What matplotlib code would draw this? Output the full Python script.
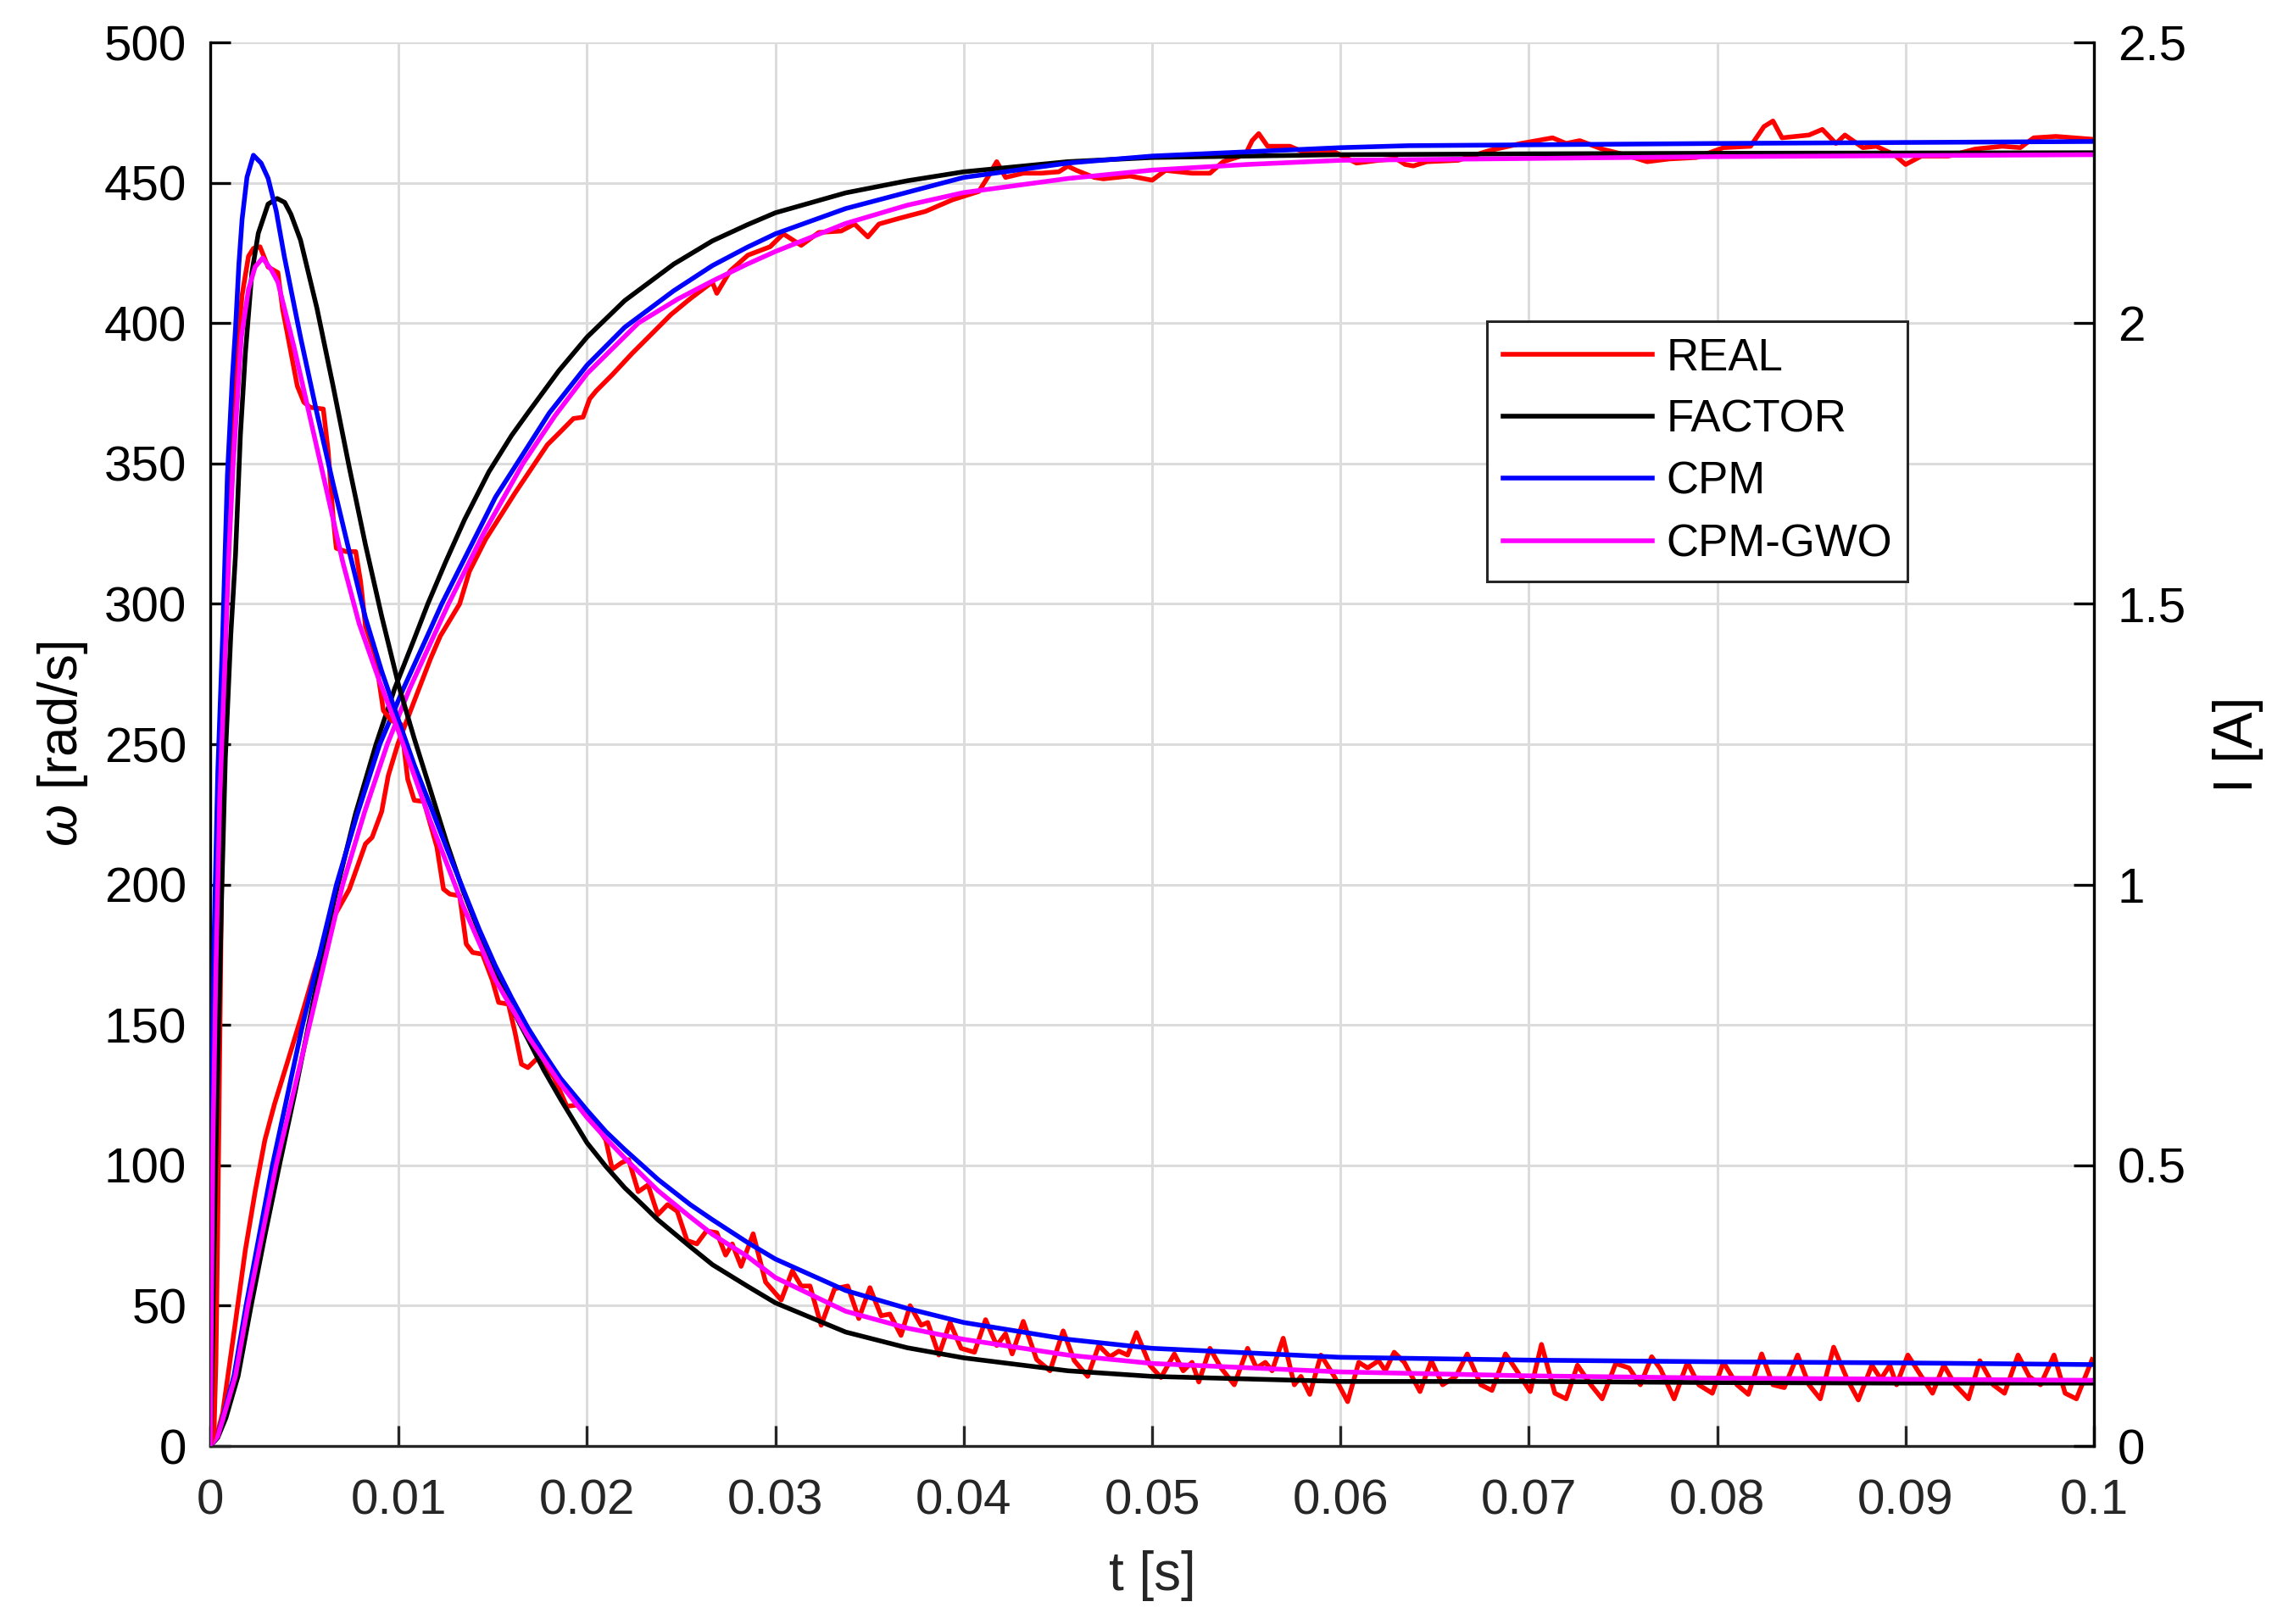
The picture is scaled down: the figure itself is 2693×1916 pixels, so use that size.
import matplotlib
matplotlib.use("Agg")
import matplotlib.pyplot as plt

plt.rcParams['font.family'] = ['Liberation Sans', 'DejaVu Sans']
plt.rcParams['mathtext.fontset'] = 'custom'
plt.rcParams['mathtext.rm'] = 'Liberation Sans'
plt.rcParams['mathtext.it'] = 'Liberation Sans:italic'

# ---------------- data ----------------
series_names = ["REAL", "FACTOR", "CPM", "CPM-GWO"]
series_colors = ["#ff0000", "#000000", "#0000ff", "#ff00ff"]

# ---- speed omega [rad/s] ----
t_w_real = [0, 0.0003, 0.00066, 0.001, 0.00134, 0.00186, 0.00238, 0.0029, 0.00341, 0.0041,
            0.00479, 0.00566, 0.00652, 0.00738, 0.00824, 0.00859, 0.0091, 0.00945, 0.00997,
            0.01083, 0.01169, 0.01221, 0.01324, 0.01376, 0.01462, 0.01617, 0.0179, 0.01859,
            0.01928, 0.01979, 0.02014, 0.02048, 0.02134, 0.02238, 0.02341, 0.02445, 0.02548,
            0.02665, 0.02689, 0.0276, 0.02854, 0.02972, 0.03042, 0.03137, 0.03231, 0.03349,
            0.0342, 0.03491, 0.0355, 0.03656, 0.03797, 0.03939, 0.0408, 0.04127, 0.04175,
            0.04222, 0.04316, 0.0441, 0.04505, 0.04552, 0.04599, 0.04693, 0.04741, 0.04882,
            0.05, 0.05071, 0.05212, 0.05307, 0.05377, 0.05495, 0.05531, 0.05566, 0.05613,
            0.05731, 0.05802, 0.05967, 0.06085, 0.06203, 0.06297, 0.06344, 0.06387, 0.06458,
            0.06625, 0.06792, 0.06959, 0.07126, 0.07198, 0.0727, 0.07389, 0.07508, 0.07628,
            0.07747, 0.0789, 0.08033, 0.08177, 0.08248, 0.08296, 0.08344, 0.08415, 0.08487,
            0.08558, 0.0863, 0.08678, 0.08773, 0.08845, 0.0894, 0.09, 0.09084, 0.09227,
            0.0937, 0.09513, 0.09609, 0.0968, 0.09799, 0.09895, 0.0999]
w_real = [0, 2.5, 11.8, 28, 44.3, 69.7, 90.5, 109, 121.8, 136.8,
          152, 172, 188, 198.3, 214.5, 216.8, 226, 238.8, 250.3,
          265.4, 280.4, 288.5, 300, 311.6, 323, 339.4, 356.7, 361.3,
          366, 366.5, 373, 375.8, 381.6, 389.1, 396, 403, 408.7,
          414.6, 410.6, 418.6, 424.2, 427.2, 431.8, 427.7, 432.3, 432.8,
          435.3, 430.7, 435.3, 437.3, 439.8, 443.9, 446.9, 451.9, 457.5,
          451.9, 453.4, 453.4, 453.9, 455.9, 454.4, 451.9, 451.4, 452.4,
          450.9, 454.4, 453.4, 453.4, 457.5, 460, 465, 467.5, 463,
          463, 461, 461, 457, 458, 458.5, 456.5, 456, 457.5,
          458, 461.5, 464, 466, 464, 465, 462, 460, 457.5,
          458.5, 459, 462.5, 463, 470, 472, 466, 466.5, 467,
          469, 464, 467, 462.5, 463, 460, 456.5, 459.5, 459.5,
          462, 463, 462.5, 466, 466.5, 466, 465.5]

t_w_factor = [0, 0.0004, 0.00083, 0.00148, 0.00217, 0.0029, 0.00367, 0.0045, 0.00522, 0.0059,
              0.0066, 0.0077, 0.0088, 0.0098, 0.0108, 0.01155, 0.0125, 0.0135, 0.01479, 0.016,
              0.01686, 0.0185, 0.02, 0.022, 0.0246, 0.02666, 0.0285, 0.03, 0.03373, 0.037,
              0.04, 0.04552, 0.05, 0.06, 0.07, 0.08, 0.1]
w_factor = [0, 3, 10, 25, 50, 75, 100, 126, 150, 173,
            195, 225, 250, 270, 287, 300, 315, 330, 347, 360,
            368, 383, 395, 408, 421, 429.3, 435, 439.3, 446.4, 450.7,
            453.9, 457.5, 459, 460, 460.3, 460.5, 460.7]

t_w_cpm = [0, 0.0004, 0.00066, 0.00126, 0.0019, 0.0033, 0.0049, 0.0067, 0.0078, 0.009,
           0.0102, 0.01152, 0.01229, 0.01514, 0.016, 0.018, 0.02, 0.022, 0.0246, 0.02666,
           0.0285, 0.03, 0.03373, 0.04, 0.04552, 0.05, 0.06, 0.0636, 0.08, 0.1]
w_cpm = [0, 4, 10, 25, 50, 100, 150, 200, 225, 250,
         269, 288.5, 300, 338, 347, 368, 385, 398.5, 411.5, 420.5,
         427, 431.8, 440.8, 451.9, 457, 459.5, 462.5, 463.2, 464, 464.7]

t_w_gwo = [0, 0.0004, 0.00069, 0.00134, 0.002, 0.0035, 0.00534, 0.00703, 0.0082, 0.0094,
           0.0106, 0.01186, 0.01265, 0.0145, 0.0166, 0.0183, 0.02, 0.02272, 0.0248, 0.02666,
           0.0285, 0.03, 0.03373, 0.037, 0.04, 0.04552, 0.05, 0.055, 0.06, 0.08, 0.1]
w_gwo = [0, 3.5, 10, 25, 50, 100, 152, 200, 226, 250,
         270, 288.5, 300, 325, 350, 367, 382, 400, 408.5, 415,
         421, 425.5, 435.5, 442, 446.5, 451.5, 454.5, 456.5, 458, 459.3, 460]

# ---- current I [A] ----
t_i_real = [0, 0.0002, 0.0003, 0.0004, 0.0005, 0.0006, 0.0008, 0.00109, 0.00134, 0.00169,
            0.00203, 0.00229, 0.00264, 0.00307, 0.00359, 0.00384, 0.0041, 0.00462, 0.00497,
            0.00531, 0.006, 0.00626, 0.00652, 0.00669, 0.00721, 0.00772, 0.00798, 0.00824,
            0.00876, 0.00919, 0.00962, 0.01014, 0.01048, 0.01083, 0.01134, 0.01203, 0.01238,
            0.01272, 0.01324, 0.01359, 0.01393, 0.01445, 0.01497, 0.01531, 0.01583, 0.01617,
            0.01652, 0.01686, 0.01738, 0.01824, 0.01893, 0.01962, 0.02031, 0.021, 0.02134,
            0.02186, 0.02221, 0.02272, 0.02324, 0.02376, 0.02428, 0.02479, 0.02531, 0.02583,
            0.02634, 0.02689, 0.02736, 0.02771, 0.02818, 0.02882, 0.02948, 0.03031, 0.0309,
            0.03137, 0.03184, 0.03243, 0.03314, 0.03384, 0.03443, 0.03502, 0.03561, 0.03608,
            0.03667, 0.03715, 0.03774, 0.03809, 0.03868, 0.03927, 0.03986, 0.04057, 0.04116,
            0.04175, 0.04222, 0.04257, 0.04316, 0.04387, 0.04458, 0.04528, 0.04587, 0.04658,
            0.04717, 0.04776, 0.04823, 0.0487, 0.04917, 0.04988, 0.05047, 0.05118, 0.05165,
            0.05212, 0.05248, 0.05307, 0.05366, 0.05436, 0.05507, 0.05554, 0.05601, 0.05637,
            0.05696, 0.05755, 0.0579, 0.05837, 0.05896, 0.05967, 0.06038, 0.06097, 0.06144,
            0.06203, 0.06238, 0.06285, 0.06339, 0.06422, 0.06482, 0.06542, 0.06613, 0.06673,
            0.06745, 0.06804, 0.06876, 0.06936, 0.07007, 0.07067, 0.07138, 0.07198, 0.07258,
            0.07329, 0.07389, 0.07461, 0.07532, 0.07592, 0.07652, 0.07699, 0.07771, 0.07842,
            0.07902, 0.07974, 0.08033, 0.08105, 0.08165, 0.08236, 0.08296, 0.08356, 0.08427,
            0.08487, 0.08547, 0.08618, 0.0869, 0.08749, 0.08821, 0.08869, 0.08916, 0.08952,
            0.09012, 0.09084, 0.09143, 0.09203, 0.09263, 0.09334, 0.09394, 0.09465, 0.09525,
            0.09597, 0.09656, 0.09716, 0.09788, 0.09847, 0.09907, 0.0999]
i_real = [0, 0.025, 0.15, 0.40, 0.70, 1.00, 1.45, 1.772, 1.917, 2.05,
          2.119, 2.133, 2.136, 2.10, 2.09, 2.025, 1.98, 1.888, 1.859,
          1.85, 1.847, 1.772, 1.655, 1.599, 1.593, 1.593, 1.54, 1.46,
          1.408, 1.31, 1.292, 1.285, 1.188, 1.15, 1.148, 1.067, 0.992,
          0.983, 0.98, 0.894, 0.879, 0.876, 0.83, 0.79, 0.787, 0.738,
          0.68, 0.674, 0.691, 0.657, 0.605, 0.608, 0.581, 0.545, 0.493,
          0.505, 0.51, 0.453, 0.465, 0.412, 0.43, 0.418, 0.366, 0.36,
          0.383, 0.38, 0.34, 0.36, 0.32, 0.378, 0.292, 0.26, 0.312,
          0.285, 0.285, 0.215, 0.28, 0.285, 0.227, 0.282, 0.232, 0.235,
          0.197, 0.25, 0.215, 0.22, 0.162, 0.22, 0.174, 0.167, 0.225,
          0.179, 0.20, 0.164, 0.222, 0.154, 0.134, 0.205, 0.152, 0.124,
          0.179, 0.159, 0.169, 0.162, 0.202, 0.144, 0.122, 0.164, 0.134,
          0.149, 0.114, 0.174, 0.139, 0.109, 0.174, 0.139, 0.149, 0.134,
          0.192, 0.109, 0.124, 0.092, 0.162, 0.124, 0.079, 0.149, 0.139,
          0.152, 0.134, 0.167, 0.149, 0.097, 0.152, 0.109, 0.124, 0.164,
          0.109, 0.099, 0.164, 0.134, 0.097, 0.181, 0.094, 0.084, 0.144,
          0.109, 0.084, 0.147, 0.139, 0.109, 0.159, 0.137, 0.084, 0.149,
          0.109, 0.094, 0.149, 0.109, 0.092, 0.164, 0.109, 0.104, 0.162,
          0.109, 0.084, 0.176, 0.119, 0.082, 0.144, 0.119, 0.144, 0.109,
          0.162, 0.124, 0.094, 0.144, 0.109, 0.084, 0.152, 0.109, 0.094,
          0.162, 0.124, 0.109, 0.162, 0.094, 0.084, 0.154]

t_i_factor = [0, 0.0001, 0.0002, 0.0003, 0.00045, 0.0006, 0.0008, 0.00109, 0.00134, 0.0016,
              0.00186, 0.00221, 0.00255, 0.00307, 0.00355, 0.00395, 0.00428, 0.00479, 0.00566,
              0.00652, 0.00738, 0.00824, 0.0091, 0.01, 0.01083, 0.01169, 0.01255, 0.01341,
              0.01428, 0.01514, 0.016, 0.01686, 0.0177, 0.01859, 0.02, 0.021, 0.022, 0.023,
              0.02376, 0.02548, 0.02666, 0.0285, 0.03, 0.03373, 0.037, 0.04, 0.04552, 0.05,
              0.06, 0.07, 0.08, 0.09, 0.1]
i_factor = [0, 0.15, 0.35, 0.525, 0.75, 0.975, 1.225, 1.445, 1.587, 1.801,
            1.945, 2.09, 2.16, 2.212, 2.222, 2.215, 2.194, 2.148, 2.027,
            1.888, 1.743, 1.605, 1.478, 1.355, 1.26, 1.168, 1.075, 0.99,
            0.915, 0.845, 0.78, 0.725, 0.67, 0.618, 0.54, 0.498, 0.46, 0.428,
            0.403, 0.355, 0.323, 0.285, 0.255, 0.203, 0.175, 0.157, 0.134, 0.124,
            0.115, 0.115, 0.113, 0.112, 0.112]

t_i_cpm = [0, 0.00003, 0.00008, 0.0002, 0.0004, 0.00066, 0.00091, 0.00117, 0.00134, 0.00152,
           0.00169, 0.00195, 0.00229, 0.0027, 0.00307, 0.0035, 0.00393, 0.00479, 0.00566,
           0.00652, 0.00738, 0.00824, 0.0091, 0.00997, 0.01083, 0.01169, 0.01255, 0.01341,
           0.01428, 0.01514, 0.016, 0.01686, 0.0177, 0.01859, 0.02, 0.021, 0.022, 0.023,
           0.02376, 0.02548, 0.02666, 0.0285, 0.03, 0.03373, 0.037, 0.04, 0.04552, 0.05,
           0.06, 0.07, 0.08, 0.09, 0.1]
i_cpm = [0, 0.30, 0.60, 0.90, 1.20, 1.445, 1.729, 1.902, 1.99, 2.105,
         2.185, 2.26, 2.299, 2.285, 2.258, 2.20, 2.119, 1.975, 1.84,
         1.714, 1.593, 1.475, 1.38, 1.295, 1.213, 1.14, 1.065, 0.993,
         0.92, 0.855, 0.798, 0.745, 0.70, 0.655, 0.598, 0.56, 0.528, 0.498,
         0.475, 0.43, 0.403, 0.363, 0.333, 0.277, 0.245, 0.22, 0.19, 0.174,
         0.158, 0.153, 0.15, 0.148, 0.145]

t_i_gwo = [0, 0.00005, 0.00014, 0.0003, 0.0005, 0.00083, 0.001, 0.00122, 0.00165, 0.00203,
           0.00238, 0.00278, 0.00324, 0.00359, 0.00445, 0.00531, 0.00617, 0.00703, 0.0079,
           0.0089, 0.00997, 0.01169, 0.01341, 0.01514, 0.01686, 0.01859, 0.02, 0.021, 0.022,
           0.023, 0.02376, 0.02548, 0.02666, 0.0285, 0.03, 0.03373, 0.037, 0.04, 0.04552,
           0.05, 0.06, 0.07, 0.08, 0.09, 0.1]
i_gwo = [0, 0.20, 0.535, 0.85, 1.15, 1.443, 1.60, 1.75, 1.975, 2.06,
         2.10, 2.116, 2.095, 2.073, 1.957, 1.83, 1.703, 1.575, 1.465,
         1.37, 1.275, 1.113, 0.963, 0.83, 0.73, 0.645, 0.585, 0.548, 0.513,
         0.48, 0.455, 0.408, 0.377, 0.338, 0.30, 0.24, 0.21, 0.19, 0.162,
         0.147, 0.132, 0.125, 0.121, 0.119, 0.117]

x_ticks = [0, 0.01, 0.02, 0.03, 0.04, 0.05, 0.06, 0.07, 0.08, 0.09, 0.1]
x_tick_labels = ["0", "0.01", "0.02", "0.03", "0.04", "0.05", "0.06", "0.07", "0.08", "0.09", "0.1"]
yl_ticks = [0, 50, 100, 150, 200, 250, 300, 350, 400, 450, 500]
yr_ticks = [0, 0.5, 1, 1.5, 2, 2.5]
yr_tick_labels = ["0", "0.5", "1", "1.5", "2", "2.5"]

# ---------------- figure ----------------
fig = plt.figure(figsize=(26.93, 19.16), dpi=100)
ax = fig.add_axes([0.0921, 0.1096, 0.8251, 0.8643])
ax2 = ax.twinx()

LW = 4.0
speed_sets = [(t_w_real, w_real), (t_w_factor, w_factor), (t_w_cpm, w_cpm), (t_w_gwo, w_gwo)]
current_sets = [(t_i_real, i_real), (t_i_factor, i_factor), (t_i_cpm, i_cpm), (t_i_gwo, i_gwo)]

handles = []
for (tt, yy), name, col in zip(speed_sets, series_names, series_colors):
    h, = ax.plot(tt, yy, color=col, lw=LW, label=name, solid_joinstyle='round')
    handles.append(h)
for (tt, yy), col in zip(current_sets, series_colors):
    ax2.plot(tt, yy, color=col, lw=LW, solid_joinstyle='round')

ax.set_xlim(0, 0.1)
ax.set_ylim(0, 500)
ax2.set_ylim(0, 2.5)
ax.set_xticks(x_ticks)
ax.set_xticklabels(x_tick_labels)
ax.set_yticks(yl_ticks)
ax2.set_yticks(yr_ticks)
ax2.set_yticklabels(yr_tick_labels)

ax.grid(True, color="#dcdcdc", lw=2.2)
ax.set_axisbelow(True)

for a in (ax, ax2):
    a.spines['top'].set_visible(False)
ax2.spines['left'].set_visible(False)
ax2.spines['bottom'].set_visible(False)
ax.spines['right'].set_visible(False)
ax.spines['left'].set_color('black')
ax.spines['bottom'].set_color('#262626')
ax2.spines['right'].set_color('black')
for s in ('left', 'bottom'):
    ax.spines[s].set_linewidth(2.4)
ax2.spines['right'].set_linewidth(2.4)

ax.tick_params(axis='x', direction='in', length=17, width=2.4, labelsize=42, pad=28,
               colors='#262626', top=False)
ax.tick_params(axis='y', direction='in', length=17, width=2.4, labelsize=42, pad=20,
               colors='black', right=False)
ax2.tick_params(axis='y', direction='in', length=17, width=2.4, labelsize=42, pad=20,
                colors='black')

ax.set_xlabel("t [s]", fontsize=46, color='#262626', labelpad=22)
ax.set_ylabel(r"$\omega$ [rad/s]", fontsize=46, labelpad=12)
ax2.set_ylabel("I [A]", fontsize=46, labelpad=22)

leg = ax2.legend(handles, series_names, loc='upper left', bbox_to_anchor=(0.6778, 0.8013),
                 borderaxespad=0, fontsize=38, handlelength=3.35, handletextpad=0.3,
                 labelspacing=0.44, borderpad=0.35, frameon=True, fancybox=False)
leg.get_frame().set_edgecolor('#262626')
leg.get_frame().set_linewidth(2.2)
leg.get_frame().set_alpha(1)
for lh in leg.get_lines():
    lh.set_linewidth(LW)

fig.savefig("out.png", dpi=100, facecolor='white')
